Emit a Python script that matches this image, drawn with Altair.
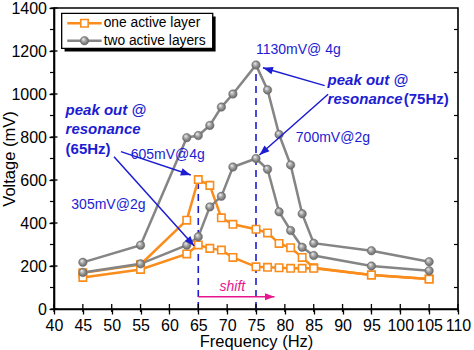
import math
import altair as alt
import pandas as pd

# ---------------- data ----------------
freq = [45, 55, 63, 65, 67, 69, 71, 75, 77, 79, 81, 83, 85, 95, 105]
one_4g = [168, 207, 413, 602, 575, 424, 394, 371, 354, 305, 285, 240, 192, 158, 139]
one_2g = [147, 184, 256, 298, 282, 274, 240, 196, 194, 192, 189, 189, 189, 158, 139]
two_4g = [217, 297, 797, 807, 854, 939, 1000, 1135, 1019, 812, 670, 443, 306, 271, 220]
two_2g = [170, 210, 297, 336, 475, 524, 660, 700, 650, 452, 365, 287, 249, 200, 178]

series_names = ["one active layer", "two active layers"]

x_ticks = list(range(40, 111, 5))
y_ticks = list(range(0, 1401, 200))
y_minor = list(range(100, 1400, 200))

res_freq = [65, 75]
res_peak = [605, 1135]

# annotation texts (data coordinates)
txt_normal = ["1130mV@ 4g", "700mV@2g", "605mV@4g", "305mV@2g"]
txt_normal_f = [75.0, 81.9, 53.3, 43.0]
txt_normal_v = [1203, 797, 716, 484]

txt_bi = ["peak out @", "resonance", "peak out @", "resonance"]
txt_bi_f = [87.4, 87.4, 42.0, 42.0]
txt_bi_v = [1065, 975, 926, 836]

txt_b = ["(75Hz)", "(65Hz)"]
txt_b_f = [100.6, 42.0]
txt_b_v = [975, 743]

shift_text = ["shift"]
shift_f = [70.9]
shift_v = [104]

arrow_f1 = [86.9, 87.5, 51.6, 50.4]
arrow_v1 = [1039, 999, 732, 708]
arrow_f2 = [76.2, 75.6, 63.7, 64.3]
arrow_v2 = [1122, 716, 623, 293]

shift_arrow_f1 = [65]
shift_arrow_f2 = [78.2]
shift_arrow_v = [57]

# legend placement (in the chart's own axis units)
legend_box_f = [41.33, 67.5]
legend_box_v = [1212, 1375]
legend_shadow_shift = [0.5, -14]
legend_row_v = [1329, 1248]
legend_line_f = [42.3, 48.26]
legend_marker_f = 45.28
legend_text_f = 48.6

# ---------------- styling ----------------
W, H = 404, 301
XD, YD = [40, 110], [0, 1400]
ORANGE = "#f98c1b"
GRAY = "#858585"
BLUE = "#1c1cd2"
MAGENTA = "#e8168c"
FONT = "Liberation Sans"


def px(f):
    return (f - XD[0]) / (XD[1] - XD[0]) * W


def py(v):
    return H - (v - YD[0]) / (YD[1] - YD[0]) * H


def head_angle(f1, v1, f2, v2):
    dx = px(f2) - px(f1)
    dy = py(v2) - py(v1)
    return math.degrees(math.atan2(dx, -dy)) % 360


rows = []
for name, acc, vals in [
    (series_names[0], "4g", one_4g),
    (series_names[0], "2g", one_2g),
    (series_names[1], "4g", two_4g),
    (series_names[1], "2g", two_2g),
]:
    for f, v in zip(freq, vals):
        rows.append({"f": f, "v": v, "layers": name, "series": name + acc})
df = pd.DataFrame(rows)

xs = alt.Scale(domain=XD, nice=False, zero=False)
ys = alt.Scale(domain=YD, nice=False)
xaxis = alt.Axis(values=x_ticks, title="Frequency (Hz)", tickSize=5, labelPadding=3,
                 titlePadding=0, grid=False, labelFlush=False, labelOverlap=False)
yaxis = alt.Axis(values=y_ticks, title="Voltage (mV)", tickSize=5, labelPadding=2.5, format="d",
                 titleAngle=270, titleBaseline="top", titleAlign="center", titleX=-53, titleY=H / 2,
                 grid=False, labelOverlap=False)
X = alt.X("f:Q", scale=xs, axis=xaxis)
Y = alt.Y("v:Q", scale=ys, axis=yaxis)
color_scale = alt.Scale(domain=series_names, range=[ORANGE, GRAY])

lines = alt.Chart(df).mark_line(strokeWidth=2.5).encode(
    x=X, y=Y,
    color=alt.Color("layers:N", scale=color_scale, legend=None),
    detail="series:N",
)

sq_style = dict(shape="square", size=55, filled=False, fill="white", stroke=ORANGE, strokeWidth=1.6, opacity=1)
squares = alt.Chart(df[df.layers == series_names[0]]).mark_point(**sq_style).encode(x=X, y=Y)

sphere = {
    "gradient": "radial",
    "x1": 0.35, "y1": 0.3, "r1": 0.02,
    "x2": 0.5, "y2": 0.5, "r2": 0.55,
    "stops": [
        {"offset": 0, "color": "#f2f2f2"},
        {"offset": 0.45, "color": "#a0a0a0"},
        {"offset": 1, "color": "#5c5c5c"},
    ],
}
ci_style = dict(size=72, fill=sphere, stroke="#6a6a6a", strokeWidth=0.5, opacity=1)
circles = alt.Chart(df[df.layers == series_names[1]]).mark_circle(**ci_style).encode(x=X, y=Y)

# ---- legend (drawn as a framed box with a drop shadow, like the original) ----
lb = pd.DataFrame({
    "f": [legend_box_f[0] + legend_shadow_shift[0], legend_box_f[0]],
    "f2": [legend_box_f[1] + legend_shadow_shift[0], legend_box_f[1]],
    "v": [legend_box_v[0] + legend_shadow_shift[1], legend_box_v[0]],
    "v2": [legend_box_v[1] + legend_shadow_shift[1], legend_box_v[1]],
    "kind": ["shadow", "box"],
})
leg_shadow = alt.Chart(lb[lb.kind == "shadow"]).mark_rect(color="black").encode(
    x=X, x2="f2:Q", y=Y, y2="v2:Q")
leg_box = alt.Chart(lb[lb.kind == "box"]).mark_rect(fill="white", stroke="black", strokeWidth=1.3).encode(
    x=X, x2="f2:Q", y=Y, y2="v2:Q")
li = pd.DataFrame({
    "layers": series_names,
    "v": legend_row_v,
    "f": [legend_line_f[0]] * 2,
    "f2": [legend_line_f[1]] * 2,
    "fm": [legend_marker_f] * 2,
    "ft": [legend_text_f] * 2,
})
leg_lines = alt.Chart(li).mark_rule(strokeWidth=2.5).encode(
    x=X, x2="f2:Q", y=Y, color=alt.Color("layers:N", scale=color_scale, legend=None))
leg_sq = alt.Chart(li[li.layers == series_names[0]]).mark_point(**sq_style).encode(
    x=alt.X("fm:Q", scale=xs, axis=xaxis), y=Y)
leg_ci = alt.Chart(li[li.layers == series_names[1]]).mark_circle(**ci_style).encode(
    x=alt.X("fm:Q", scale=xs, axis=xaxis), y=Y)
leg_txt = alt.Chart(li).mark_text(align="left", baseline="middle", font=FONT, fontSize=13.8, color="black").encode(
    x=alt.X("ft:Q", scale=xs, axis=xaxis), y=Y, text="layers:N")

# inner halves of the crossing ticks and minor ticks
xt = pd.DataFrame({"f": x_ticks})
x_inner = alt.Chart(xt).mark_tick(orient="vertical", size=8, thickness=1.3, color="black", opacity=1).encode(
    x=X, y=alt.value(H - 1))
yt = pd.DataFrame({"v": y_ticks})
y_inner = alt.Chart(yt).mark_tick(orient="horizontal", size=7, thickness=1.3, color="black", opacity=1).encode(
    y=Y, x=alt.value(0))
ym = pd.DataFrame({"v": y_minor})
y_minor_l = alt.Chart(ym).mark_tick(orient="horizontal", size=4, thickness=1.2, color="black", opacity=1).encode(
    y=Y, x=alt.value(-2))
y_minor_r = alt.Chart(ym).mark_tick(orient="horizontal", size=4, thickness=1.2, color="black", opacity=1).encode(
    y=Y, x=alt.value(W - 2))

# resonance dashed lines
rd = pd.DataFrame({"f": res_freq, "v": [0, 0], "v2": res_peak})
res_lines = alt.Chart(rd).mark_rule(color=BLUE, strokeWidth=1.6, strokeDash=[7, 5]).encode(
    x=X, y=Y, y2="v2:Q")

# arrows
ad = pd.DataFrame({"f": arrow_f1, "v": arrow_v1, "f2": arrow_f2, "v2": arrow_v2})
ad["ang"] = [head_angle(a, b, c, d) for a, b, c, d in zip(arrow_f1, arrow_v1, arrow_f2, arrow_v2)]
arrow_lines = alt.Chart(ad).mark_rule(color=BLUE, strokeWidth=1.5).encode(
    x=X, y=Y, x2="f2:Q", y2="v2:Q")
head_path = "M0,0L-0.75,2L0.75,2Z"
arrow_heads = alt.Chart(ad).mark_point(shape=head_path, size=100, filled=True, color=BLUE, opacity=1, strokeWidth=0).encode(
    x=alt.X("f2:Q", scale=xs, axis=xaxis), y=alt.Y("v2:Q", scale=ys, axis=yaxis),
    angle=alt.Angle("ang:Q", scale=None))

sd = pd.DataFrame({"f": shift_arrow_f1, "v": shift_arrow_v, "f2": shift_arrow_f2, "v2": shift_arrow_v})
sd["ang"] = [head_angle(a, b, c, d) for a, b, c, d in zip(shift_arrow_f1, shift_arrow_v, shift_arrow_f2, shift_arrow_v)]
shift_line = alt.Chart(sd).mark_rule(color=MAGENTA, strokeWidth=1.5).encode(x=X, y=Y, x2="f2:Q")
shift_head = alt.Chart(sd).mark_point(shape=head_path, size=90, filled=True, color=MAGENTA, opacity=1, strokeWidth=0).encode(
    x=alt.X("f2:Q", scale=xs, axis=xaxis), y=Y, angle=alt.Angle("ang:Q", scale=None))

# texts
tn = pd.DataFrame({"f": txt_normal_f, "v": txt_normal_v, "t": txt_normal})
t_normal = alt.Chart(tn).mark_text(align="left", baseline="middle", font=FONT, fontSize=14, color=BLUE).encode(
    x=X, y=Y, text="t:N")
tbi = pd.DataFrame({"f": txt_bi_f, "v": txt_bi_v, "t": txt_bi})
t_bi = alt.Chart(tbi).mark_text(align="left", baseline="middle", font=FONT, fontSize=15, fontWeight="bold",
                                fontStyle="italic", color=BLUE).encode(x=X, y=Y, text="t:N")
tb = pd.DataFrame({"f": txt_b_f, "v": txt_b_v, "t": txt_b})
t_b = alt.Chart(tb).mark_text(align="left", baseline="middle", font=FONT, fontSize=15, fontWeight="bold",
                              color=BLUE).encode(x=X, y=Y, text="t:N")
ts = pd.DataFrame({"f": shift_f, "v": shift_v, "t": shift_text})
t_shift = alt.Chart(ts).mark_text(align="center", baseline="middle", font=FONT, fontSize=14,
                                  fontStyle="italic", color=MAGENTA).encode(x=X, y=Y, text="t:N")

chart = alt.layer(
    res_lines, lines, squares, circles,
    x_inner, y_inner, y_minor_l, y_minor_r,
    arrow_lines, arrow_heads, shift_line, shift_head,
    t_normal, t_bi, t_b, t_shift,
    leg_shadow, leg_box, leg_lines, leg_sq, leg_ci, leg_txt,
).properties(
    width=W, height=H,
    padding={"left": 54, "top": 8, "right": 16, "bottom": 41},
    autosize=alt.AutoSizeParams(type="none"),
    background="white",
).configure_view(
    stroke="black", strokeWidth=1.6
).configure_axis(
    domainColor="black", domainWidth=1.6, tickColor="black", tickWidth=1.3,
    labelFont=FONT, labelFontSize=16, labelColor="black",
    titleFont=FONT, titleFontWeight="normal", titleColor="black", titleFontSize=16.5,
)

chart.save("out.html", embed_options={"renderer": "svg", "actions": False})
